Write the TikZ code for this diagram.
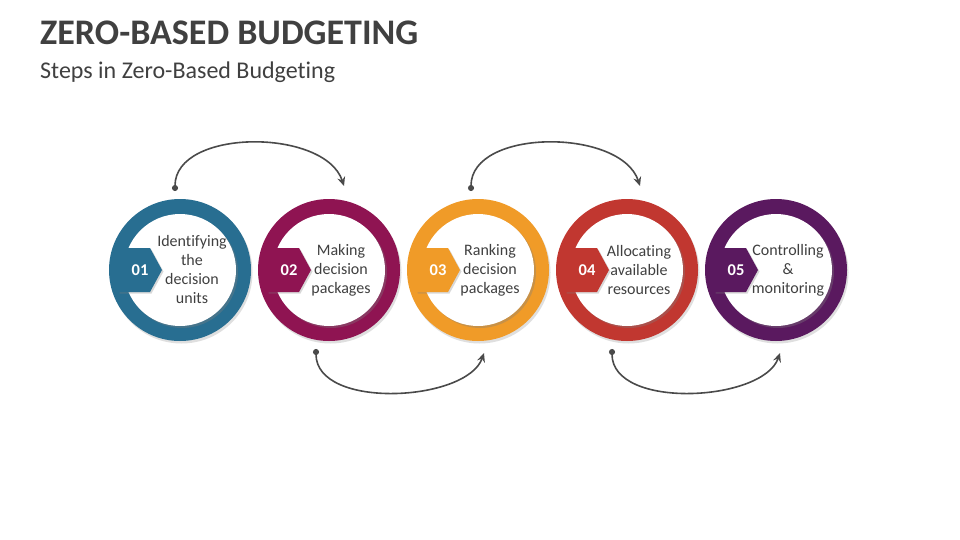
\documentclass[tikz,border=0pt]{standalone}
\usepackage{fontspec}
\setmainfont{Carlito}[Ligatures=NoCommon]
\usetikzlibrary{arrows.meta,shadows}
\definecolor{ink}{HTML}{404040}
\definecolor{linkgray}{HTML}{4A4A4A}
\definecolor{cA}{HTML}{286E91}
\definecolor{cB}{HTML}{8F1452}
\definecolor{cC}{HTML}{F09B28}
\definecolor{cD}{HTML}{C13730}
\definecolor{cE}{HTML}{5A195F}
\begin{document}
\begin{tikzpicture}[x=1pt,y=-1pt,
  ringfill/.style={circle,fill=#1,minimum size=142pt,inner sep=0pt,
    drop shadow={opacity=0.25,shadow xshift=1.5pt,shadow yshift=-2.5pt}},
  holefill/.style={circle,fill=white,minimum size=112pt,inner sep=0pt,
    drop shadow={opacity=0.35,shadow xshift=2pt,shadow yshift=-2pt}},
  steptext/.style={align=center,text=ink,font=\fontsize{16}{19}\selectfont},
  stepnum/.style={text=white,font=\bfseries\fontsize{16.5}{19}\selectfont},
  curvelink/.style={draw=linkgray,line width=1.6pt,
    {Circle[length=6pt]}-{Stealth[length=9pt,width=8pt,inset=3pt]}}]
\useasboundingbox (0,0) rectangle (960,540);
\fill[white] (0,0) rectangle (960,540);
\node[anchor=base west,inner sep=0pt,text=ink,font=\bfseries\fontsize{36}{40}\selectfont] (title) at (40,45) {ZERO-BASED BUDGETING};
\node[anchor=base west,inner sep=0pt,text=ink,font=\fontsize{24}{28}\selectfont] (subtitle) at (40,79) {Steps in Zero-Based Budgeting};
\foreach \i/\col/\txt in {1/cA/{Identifying\\the\\decision\\units},2/cB/{Making\\decision\\packages},3/cC/{Ranking\\decision\\packages},4/cD/{Allocating\\available\\resources},5/cE/{Controlling\\\&\\monitoring}}{
  \pgfmathsetmacro\cx{180+149*(\i-1)}
  \node[ringfill=\col] (c\i) at (\cx,270) {};
  \node[holefill] (h\i) at (\cx,270) {};
  \fill[\col,drop shadow={opacity=0.3,shadow xshift=1.5pt,shadow yshift=-1.5pt}] (\cx-62,248) -- (\cx-30,248) -- (\cx-18,270) -- (\cx-30,292) -- (\cx-62,292) -- cycle;
  \node[stepnum] (n\i) at (\cx-40,270) {0\i};
  \node[steptext] (t\i) at (\cx+12,270) {\txt};
}
\coordinate (s1) at (175,191); \coordinate (e1) at (344,186);
\coordinate (s2) at (471,191); \coordinate (e2) at (640,186);
\coordinate (s3) at (316,349); \coordinate (e3) at (484,353);
\coordinate (s4) at (612,349); \coordinate (e4) at (780,353);
\draw[curvelink] (s1) .. controls (175,128) and (325,128) .. (e1);
\draw[curvelink] (s2) .. controls (471,128) and (621,128) .. (e2);
\draw[curvelink] (s3) .. controls (316,410) and (467,402) .. (e3);
\draw[curvelink] (s4) .. controls (612,410) and (763,402) .. (e4);
\end{tikzpicture}
\end{document}
